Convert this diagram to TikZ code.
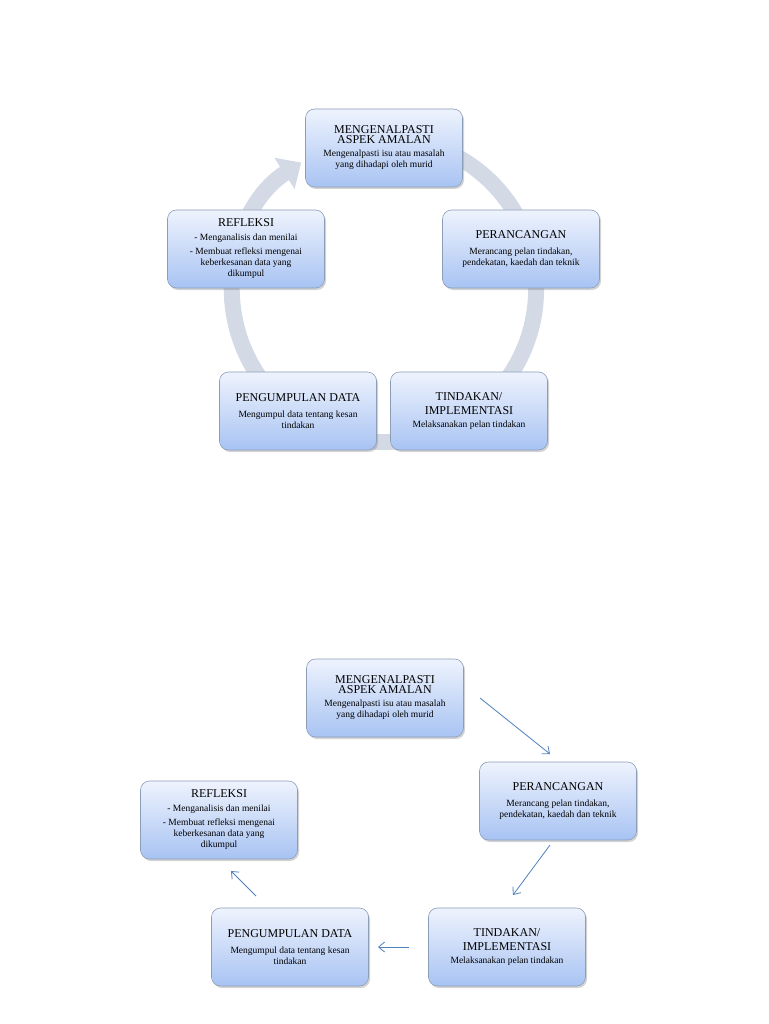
\documentclass[tikz,border=0pt]{standalone}
\usepackage{fontspec}
\setmainfont{Liberation Serif}
\usetikzlibrary{arrows.meta,shadows}
\definecolor{ring}{HTML}{D3DAE5}
\definecolor{btop}{HTML}{EEF3FD}
\definecolor{bbot}{HTML}{A8C3F3}
\definecolor{bdr}{HTML}{8C9DB8}
\definecolor{arr}{HTML}{4F81BD}
\newcommand\ttlfont{\fontsize{12}{13}\selectfont}
\begin{document}
\begin{tikzpicture}[x=1pt,y=1pt,
  box/.style={draw=bdr,line width=0.6pt,rounded corners=9pt,top color=btop,bottom color=bbot,
    minimum width=157pt,minimum height=78pt,align=center,inner sep=3pt,
    font=\fontsize{9.5}{11}\selectfont,
    drop shadow={shadow xshift=1.5pt,shadow yshift=-2pt,opacity=0.35}},
  link/.style={draw=arr,line width=0.8pt,-{Straight Barb[length=6pt,width=10pt]}}]
\useasboundingbox (0,0) rectangle (768,-1024);
% ring
\draw[ring,line width=16pt,-{Triangle[width=36pt,length=20pt]}]
  (384,-290) ++(110:152) arc[start angle=110,end angle=-237,radius=152];
% top diagram
\node[box] (m1) at (384,-148) {\ttlfont MENGENALPASTI\\[-1pt]\ttlfont ASPEK AMALAN\\[2pt]Mengenalpasti isu atau masalah\\yang dihadapi oleh murid};
\node[box] (p1) at (521,-249) {\ttlfont PERANCANGAN\\[5pt]Merancang pelan tindakan,\\pendekatan, kaedah dan teknik};
\node[box] (t1) at (469,-411) {\ttlfont TINDAKAN/\\[3pt]\ttlfont IMPLEMENTASI\\[2pt]Melaksanakan pelan tindakan};
\node[box] (d1) at (298,-411) {\ttlfont PENGUMPULAN DATA\\[5pt]Mengumpul data tentang kesan\\tindakan};
\node[box] (r1) at (246,-249) {\ttlfont REFLEKSI\\[3pt]- Menganalisis dan menilai\\[3pt]- Membuat refleksi mengenai\\keberkesanan data yang\\dikumpul};
% bottom diagram
\node[box] (m2) at (385,-698) {\ttlfont MENGENALPASTI\\[-1pt]\ttlfont ASPEK AMALAN\\[2pt]Mengenalpasti isu atau masalah\\yang dihadapi oleh murid};
\node[box] (p2) at (558,-801) {\ttlfont PERANCANGAN\\[5pt]Merancang pelan tindakan,\\pendekatan, kaedah dan teknik};
\node[box] (t2) at (507,-947) {\ttlfont TINDAKAN/\\[3pt]\ttlfont IMPLEMENTASI\\[2pt]Melaksanakan pelan tindakan};
\node[box] (d2) at (290,-947) {\ttlfont PENGUMPULAN DATA\\[5pt]Mengumpul data tentang kesan\\tindakan};
\node[box] (r2) at (219,-820) {\ttlfont REFLEKSI\\[3pt]- Menganalisis dan menilai\\[3pt]- Membuat refleksi mengenai\\keberkesanan data yang\\dikumpul};
\coordinate (a1) at (480,-698); \coordinate (a2) at (550,-754);
\coordinate (b1) at (550,-845); \coordinate (b2) at (513,-895);
\coordinate (c1) at (409,-947); \coordinate (c2) at (378,-947);
\coordinate (e1) at (256,-896); \coordinate (e2) at (231,-871);
\draw[link] (a1) -- (a2);
\draw[link] (b1) -- (b2);
\draw[link] (c1) -- (c2);
\draw[link] (e1) -- (e2);
\end{tikzpicture}
\end{document}
